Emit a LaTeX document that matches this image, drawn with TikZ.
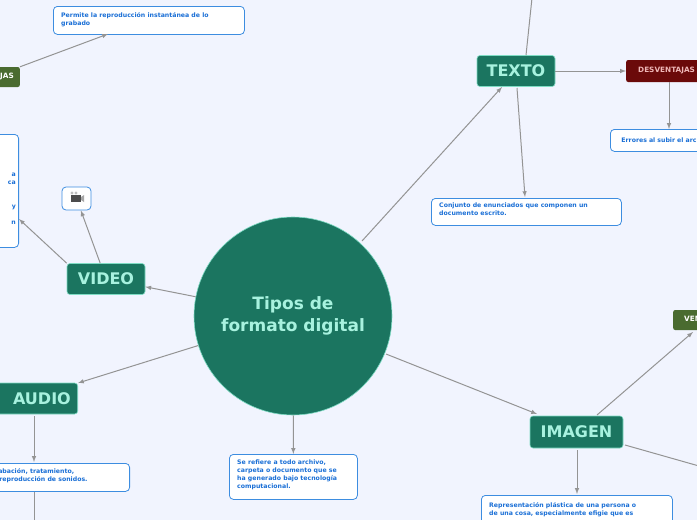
\documentclass[tikz,border=0pt]{standalone}
\usepackage{fontspec}
\setmainfont{DejaVu Sans}
\begin{document}
\begin{tikzpicture}[x=1pt,y=-1pt,
  conn/.style={draw=gray!80!black!70,line width=1pt,-latex},
  line/.style={draw=gray!80!black!70,line width=1pt},
  topic/.style={fill=tgreen,draw=tborder,line width=0.6pt,rounded corners=3pt,text=tlight,font=\bfseries\fontsize{16}{18}\selectfont,inner sep=0pt},
  note/.style={fill=white,draw=nblue,line width=0.8pt,rounded corners=4pt,text=tblue,font=\bfseries\fontsize{6.2}{8}\selectfont,inner sep=0pt},
  txt/.style={text=tblue,font=\bfseries\fontsize{6.2}{8}\selectfont,align=left,inner sep=0pt},
  tag/.style={rounded corners=2pt,font=\bfseries\fontsize{7.3}{9}\selectfont,inner sep=0pt}]
\definecolor{bg}{HTML}{F1F4FE}
\definecolor{tgreen}{HTML}{1B7560}
\definecolor{tborder}{HTML}{7FDCC4}
\definecolor{tlight}{HTML}{A8F2DF}
\definecolor{tblue}{HTML}{1A6FD6}
\definecolor{nblue}{HTML}{3D8DE0}
\definecolor{vgreen}{HTML}{4A6B30}
\definecolor{dred}{HTML}{6B0A0A}
\definecolor{pink}{HTML}{F0B8B8}
\useasboundingbox (0,0) rectangle (697,520);
\clip (0,0) rectangle (697,520);
\fill[bg] (0,0) rectangle (697,520);
% center
\node[circle,fill=tgreen,draw=tborder,line width=0.6pt,minimum size=198pt,inner sep=0pt,text=tlight,align=center,font=\bfseries\fontsize{17}{22}\selectfont] (c) at (293,316) {Tipos de\\formato digital};
% TEXTO
\node[topic,minimum width=78pt,minimum height=31pt] (texto) at (516,71) {TEXTO};
\node[tag,fill=dred,text=pink,minimum height=22pt,minimum width=100pt,anchor=west,text width=92pt,align=left] (desv) at (626,71) {\hspace{8pt}DESVENTAJAS};
\node[note,anchor=north west,minimum height=22pt,minimum width=130pt,text width=122pt,align=left] (err) at (610,129) {\hspace{7pt}Errores al subir el archivo};
\node[note,anchor=north west,minimum width=190pt,minimum height=27pt] (conj) at (431,198) {};
\node[txt,anchor=north west] at (439,203) {Conjunto de enunciados que componen un\\documento escrito.};
\coordinate (tup) at (532,-2);
\draw[line] (texto.north) ++(10,0) -- (tup);
\draw[conn] (362,241) -- (502,87);
\draw[conn] (texto) -- (desv);
\draw[conn] (desv.south west) ++(43,0) coordinate (dd) -- (dd |- err.north);
\draw[conn] (517,88) -- (525,197);
% VIDEO
\node[topic,minimum width=78pt,minimum height=31pt] (video) at (106,279) {VIDEO};
\draw[conn] (c) -- (video);
\node[note,minimum width=29pt,minimum height=23pt] (icon) at (76.5,198.5) {};
\fill[gray!60!black] (71,195) rectangle (81,202);
\fill[gray!70] (81,197) -- (84,195) -- (84,202) -- (81,200) -- cycle;
\fill[gray!50] (72,193) circle (1.6) (76,193) circle (1.6);
\draw[conn] (video) -- (icon);
\node[note,anchor=north east,minimum width=60pt,minimum height=113pt] (lbox) at (19,134) {};
\node[txt,anchor=north east,align=right] at (16,173) {a\\ca\\[16pt]y\\[8pt]n};
\draw[conn] (video.north west) -- (lbox.east |- 0,219);
% VENTAJAS top-left
\node[tag,fill=vgreen,text=white,minimum height=20pt,minimum width=60pt,anchor=east] (vent1) at (20,77) {};
\node[tag,text=white,anchor=east] at (14,77) {VENTAJAS};
\node[note,anchor=north west,minimum width=191pt,minimum height=28pt] (perm) at (53,6) {};
\node[txt,anchor=north west] at (61,12) {Permite la reproducción instantánea de lo\\grabado};
\draw[conn] (vent1.north east) -- (108,34);
% AUDIO
\node[topic,minimum width=96pt,minimum height=31pt,anchor=east] (audio) at (78,398.5) {};
\node[text=tlight,font=\bfseries\fontsize{16}{18}\selectfont,anchor=east,inner sep=0pt] at (71,399) {AUDIO};
\draw[conn] (c) -- (audio.north east |- 0,383);
\node[note,anchor=north east,minimum width=150pt,minimum height=28pt] (abox) at (130,463) {};
\node[txt,anchor=north west] at (-5,468) {rabación, tratamiento,\\\hspace{2pt} reproducción de sonidos.};
\draw[conn] (34,416) -- (34,462);
\draw[line] (34,492) -- (34,522);
% bottom center
\node[note,anchor=north west,minimum width=128pt,minimum height=45pt] (sref) at (229,454) {};
\node[txt,anchor=north west] at (237,460) {Se refiere a todo archivo,\\carpeta o documento que se\\ha generado bajo tecnología\\computacional.};
\draw[conn] (c) -- (sref);
% IMAGEN
\node[topic,minimum width=93pt,minimum height=32pt] (imagen) at (576.5,432) {IMAGEN};
\draw[conn] (386,354) -- (537,414);
\node[tag,fill=vgreen,text=white,minimum height=20pt,minimum width=60pt,anchor=west,text width=52pt,align=left] (vent2) at (673,320) {\hspace{7pt}VENTAJAS};
\draw[conn] (597,415) -- (693,332);
\draw[line] (625,445) -- (699,466);
\node[note,anchor=north west,minimum width=191pt,minimum height=40pt] (rep) at (481,495) {};
\node[txt,anchor=north west] at (489,502) {Representación plástica de una persona o\\de una cosa, especialmente efigie que es};
\draw[conn] (577,450) -- (577,494);
\end{tikzpicture}
\end{document}
